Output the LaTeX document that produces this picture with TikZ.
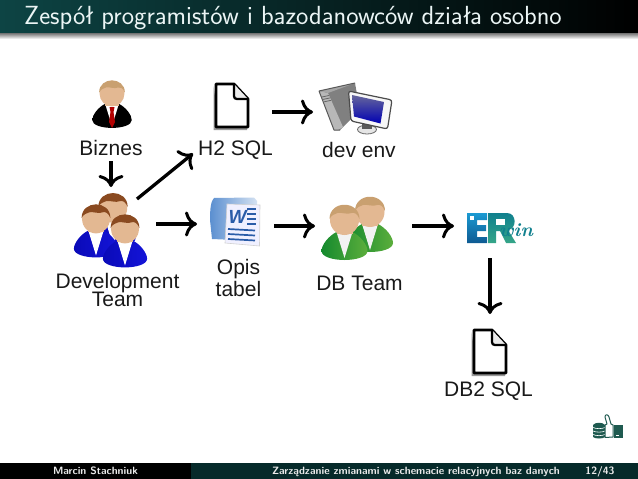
\documentclass[tikz,border=0pt]{standalone}
\usepackage{fontspec}
\setmainfont{Liberation Sans}
\setsansfont{Latin Modern Sans}
\newfontfamily\lmrfam{Latin Modern Roman}
\usetikzlibrary{arrows.meta,calc}
\definecolor{barteal}{HTML}{0D4444}
\definecolor{footteal}{HTML}{062A2A}
\definecolor{skin}{HTML}{E3B892}
\definecolor{thumbc}{HTML}{1F5A50}
\definecolor{devblue}{HTML}{1414D8}
\definecolor{devblued}{HTML}{0A0AB8}
\definecolor{devhair}{HTML}{8A4A20}
\definecolor{bizhair}{HTML}{C9A070}
\definecolor{dbgreen}{HTML}{5CAE3C}
\definecolor{dbgreend}{HTML}{158A2E}
\definecolor{wordback}{HTML}{5B8FD0}
\definecolor{wordlight}{HTML}{D5E2F2}
\definecolor{wordblue}{HTML}{2A5CA8}
\definecolor{erblue}{HTML}{1B9AD2}
\definecolor{erblued}{HTML}{0E5A92}
\definecolor{erteal}{HTML}{10808E}
\definecolor{ergreen}{HTML}{35A588}
\tikzset{
  arr/.style={draw=black,line width=3.3pt,-{Computer Modern Rightarrow[length=12pt,width=25pt,line width=3pt]}},
  anchorbox/.style={inner sep=0pt,outer sep=0pt},
  lbl/.style={font=\fontsize{21}{21}\selectfont,anchor=base,inner sep=0pt,text=black!90},
  foot/.style={font=\sffamily\bfseries\fontsize{10.6}{11}\selectfont,anchor=base,inner sep=0pt,text=white!92!black},
}
% x, y (head centre), scale, body, dark body, hair, shirt
\newcommand{\mperson}[7]{%
\begin{scope}[shift={(#1,#2)},scale=#3]
  \path[left color=#5,right color=#4,draw=none]
    (-8,12) .. controls (-16,16) and (-23,25) .. (-23,31)
    .. controls (-23,37) and (-11,40) .. (0,40)
    .. controls (11,40) and (23,37) .. (23,31)
    .. controls (23,25) and (16,16) .. (8,12) -- cycle;
  \fill[#7] (-8,12) -- (8,12) -- (0,38) -- cycle;
  \fill[skin] (-8,8) rectangle (8,14);
  \fill[skin] (0,0) ellipse (14.5 and 15);
  \fill[#6] (-15,-1) .. controls (-15,-20) and (15,-20) .. (15,-1)
    .. controls (13,-6) and (10,-8) .. (7,-7)
    .. controls (3,-5) and (-3,-8) .. (-7,-7)
    .. controls (-10,-6) and (-13,-5) .. (-15,-1) -- cycle;
\end{scope}}
\newcommand{\sqldoc}[2]{%
\begin{scope}[shift={(#1,#2)}]
  \fill[black!40] (-2.5,2) -- (-2.5,46) -- (31,46) -- (31,40) -- (3,40) -- cycle;
  \draw[line width=2.8pt,fill=white,line join=round] (0,0) -- (18,0) -- (32,15) -- (32,43) -- (0,43) -- cycle;
  \draw[line width=2.3pt,fill=black!8,line join=round] (18,0) -- (18,12) .. controls (18,14) and (19,15) .. (21,15) -- (32,15);
\end{scope}}
\begin{document}
\begin{tikzpicture}[x=1pt,y=-1pt]
\useasboundingbox (0,0) rectangle (638,479);
\fill[white] (0,0) rectangle (638,479);
% title bar
\shade[left color=barteal,right color=black] (0,0) rectangle (638,33);
\shade[top color=black!55,bottom color=white] (0,33) rectangle (638,39);
\node[anchor=base west,inner sep=0pt,text=white!92!teal,font=\sffamily\fontsize{26.2}{27}\selectfont] (title) at (24,24) {Zespół programistów i bazodanowców działa osobno};
% footer
\fill[black] (0,463) rectangle (191,479);
\fill[footteal] (191,463) rectangle (638,479);
\node[foot] (author) at (95.5,474) {Marcin Stachniuk};
\node[foot] (talk) at (416,474) {Zarządzanie zmianami w schemacie relacyjnych baz danych};
\node[foot] (page) at (600,474) {12/43};

% person: Biznes
\mperson{112}{93.5}{0.86}{black}{black}{bizhair}{white}
\fill[red!70!black] (109.5,107) -- (114.5,107) -- (113.5,112) -- (115,122) -- (112,128) -- (109,122) -- (110.5,112) -- cycle;

% Development team
\mperson{113}{208}{0.98}{devblue}{devblued}{devhair}{white}
\mperson{96}{219}{0.96}{devblue}{devblued}{devhair}{white}
\mperson{125}{229}{0.96}{devblue}{devblued}{devhair}{white}

% DB team
\mperson{370}{212}{1.0}{dbgreen}{dbgreend}{bizhair}{black!5}
\mperson{344.5}{220}{1.0}{dbgreen}{dbgreend}{bizhair}{black!5}

% SQL docs
\sqldoc{216}{84}
\sqldoc{474}{330}

% computer
\fill[black!50] (319,91) -- (355,83) -- (358,100) -- (352,118) -- (340,130) -- (334,130) -- cycle;
\fill[black!28] (319,91) -- (328,93) -- (343,127) -- (338,130) -- (334,130) -- cycle;
\fill[black!35] (319,91) -- (355,83) -- (328,93) -- cycle;
\foreach \t in {0,.12,.24}{\draw[black!60,line width=.8pt] ($(322,97)+(\t*9,\t*20)$) -- ++(7,-1.5);}
\draw[black!65,line width=1pt,line join=round] (319,91) -- (355,83) (319,91) -- (334,130) -- (340,130);
\draw[black!60,fill=black!10,line width=.8pt] (367,129.5) ellipse (9.5 and 4.5);
\fill[black!65] (362,124) rectangle (372,129);
\draw[black!70,fill=white!97!black,line width=1.2pt,rounded corners=2.5pt] (348.5,91) -- (392,100) -- (387.5,129) -- (351,121) -- cycle;
\shade[top color=blue!35!black!60,bottom color=blue!70!black,draw=none] (352,95) -- (384,102) -- (380.5,123.5) -- (354,116.5) -- cycle;

% Word
\shade[left color=wordback,right color=wordlight] (214,198) -- (254,197.5) -- (257,201) -- (257,241) -- (212,239) -- (210,220) .. controls (210,208) and (211,201) .. (214,198) -- cycle;
\fill[white!94!blue,draw=black!18,line width=.6pt] (227,204) -- (260,205) -- (259.5,246) -- (225,243) -- cycle;
\node[anchorbox,text=wordblue,font=\fontsize{19}{19}\selectfont\bfseries\itshape] (wordw) at (237.5,217) {W};
\foreach \yy in {209,214,219,224}{\draw[wordblue,line width=1.7pt] (247,\yy) -- (256,\yy);}
\foreach \yy in {229,234,239}{\draw[wordblue,line width=1.7pt] (228,\yy) -- (255,\yy+1.5);}

% ERwin logo
\shade[top color=erblue,bottom color=erblued] (467,213) -- (487,213) -- (487,220) -- (477,220) -- (477,225) -- (486,225) -- (486,231) -- (477,231) -- (477,237) -- (487,237) -- (487,243) -- (467,243) -- cycle;
\fill[white] (470,216) rectangle (474,219.5);
\shade[top color=erteal,bottom color=ergreen] (488,213) -- (507,213) .. controls (517,213) and (517,229) .. (508,230) -- (516,243) -- (506,243) -- (500,231) -- (496,231) -- (496,243) -- (488,243) -- cycle;
\fill[white] (496,219) rectangle (505,224.5);
\node[anchorbox,text=erteal,font=\lmrfam\bfseries\itshape\fontsize{19}{19}\selectfont] (erwintext) at (516,230.5) {win};

% thumb
\fill[thumbc] (593,425) -- (593,437) .. controls (595,439) and (603,439) .. (605,437) -- (605,425) .. controls (603,422) and (595,422) .. (593,425) -- cycle;
\foreach \yy in {427.5,431,434.5}{\draw[white,line width=.6pt] (593,\yy) .. controls (596,\yy+1.5) and (602,\yy+1.5) .. (605,\yy);}
\draw[thumbc,line width=1pt,fill=white,line join=round] (605,425) -- (607,424) -- (605,417) .. controls (605,414) and (608,414) .. (609,417) -- (611,424) -- (613,425) -- (613,437) -- (605,437.5) -- cycle;
\fill[thumbc] (614,425) rectangle (623,438);
\fill[white] (616,435) rectangle (619,436);

% labels
\node[lbl] (lbiz) at (111,155.5) {Biznes};
\node[lbl] (lh2) at (235.5,155.5) {H2 SQL};
\node[lbl] (lenv) at (359,157) {dev env};
\node[lbl] (ldev) at (117.5,288) {Development};
\node[lbl] (lteam) at (117.5,306) {Team};
\node[lbl] (lopis) at (238.5,274) {Opis};
\node[lbl] (ltabel) at (238.5,296) {tabel};
\node[lbl] (ldb) at (359.5,290) {DB Team};
\node[lbl] (ldb2) at (488.5,396) {DB2 SQL};

% anchors of icons, where the connectors end
\node[anchorbox,minimum width=0pt,minimum height=0pt] (bizout) at (111,161) {};
\node[anchorbox,minimum width=90pt,minimum height=74pt] (dev) at (111,224) {};
\node[anchorbox,minimum width=0pt,minimum height=0pt] (devup) at (137,199) {};
\node[anchorbox,minimum width=0pt,minimum height=0pt] (h2in) at (193,153.5) {};
\node[anchorbox,minimum width=0pt,minimum height=0pt] (h2out) at (272,112) {};
\node[anchorbox,minimum width=0pt,minimum height=0pt] (env) at (313,112) {};
\node[anchorbox,minimum width=0pt,minimum height=0pt] (worda) at (197,224) {};
\node[anchorbox,minimum width=0pt,minimum height=0pt] (wordb) at (274,226) {};
\node[anchorbox,minimum width=0pt,minimum height=0pt] (dbt) at (315,226) {};
\node[anchorbox,minimum width=0pt,minimum height=0pt] (dbr) at (412,226) {};
\node[anchorbox,minimum width=0pt,minimum height=0pt] (er) at (454,226) {};
\node[anchorbox,minimum width=0pt,minimum height=0pt] (ers) at (490,258) {};
\node[anchorbox,minimum width=0pt,minimum height=0pt] (db2) at (490,314) {};

% connectors
\draw[arr] (bizout) -- (dev.north);
\draw[arr] (devup) -- (h2in);
\draw[arr] (h2out) -- (env);
\draw[arr] (dev.east) -- (worda);
\draw[arr] (wordb) -- (dbt);
\draw[arr] (dbr) -- (er);
\draw[arr] (ers) -- (db2);
\end{tikzpicture}
\end{document}
